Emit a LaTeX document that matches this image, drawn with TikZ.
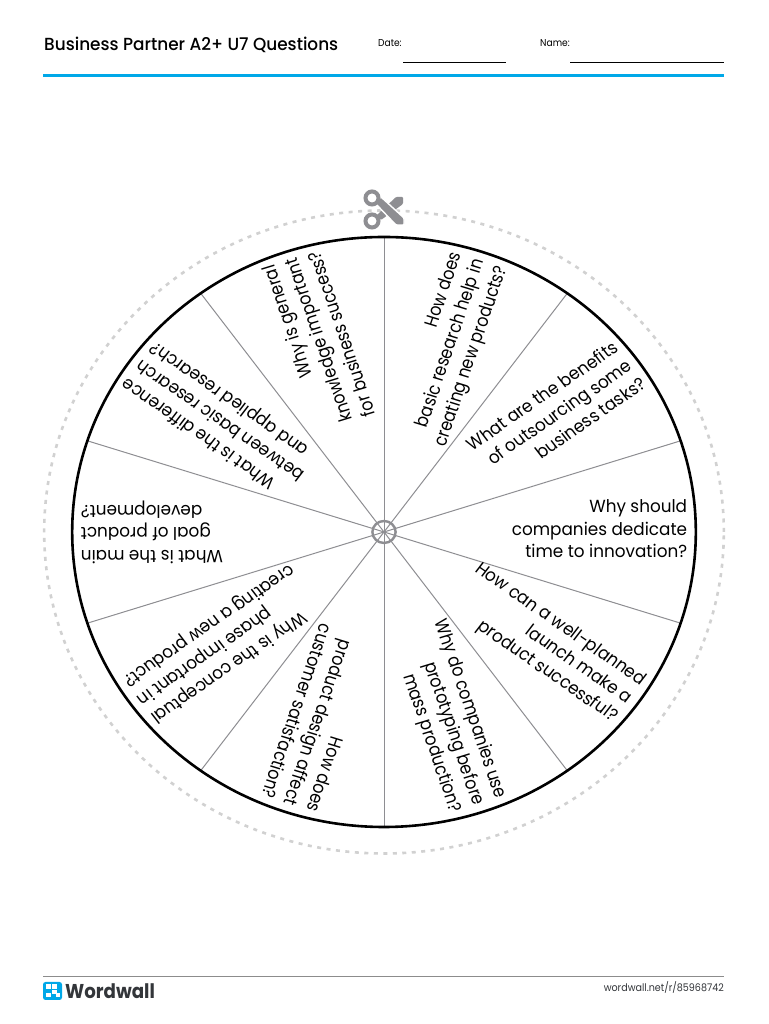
\documentclass[tikz,border=0pt]{standalone}
\usepackage{fontspec}
\setmainfont{Poppins}[FakeStretch=0.91]
\newfontfamily\titlefont{Poppins Medium}[FakeStretch=0.965]
\usetikzlibrary{positioning}
\definecolor{wordblue}{HTML}{00A8E8}
\definecolor{toolgray}{HTML}{8E8E92}
\definecolor{wordink}{HTML}{33363A}
\tikzset{
    x=1pt,y=1pt,
    question/.style={anchor=east,align=right,transform shape,inner sep=0pt,
        font=\fontsize{17.5}{22.5}\selectfont},
    spoke/.style={draw=toolgray,line width=1pt},
    formlabel/.style={anchor=west,inner sep=0pt,font=\fontsize{10}{11}\selectfont},
    formline/.style={draw=black,line width=0.9pt},
    grip/.style={draw=toolgray,line width=4pt}
}
\begin{document}
\begin{tikzpicture}
    \useasboundingbox[fill=white] (0,0) rectangle (768,1024);
    % header
    \node[anchor=west,inner sep=0pt,font=\titlefont\fontsize{17.5}{20}\selectfont] (title) at (44,979) {Business Partner A2+ U7 Questions};
    \node[formlabel] (date) at (378,981) {Date:};
    \node[formlabel] (name) at (540,981) {Name:};
    \draw[formline] (403,962) -- (506,962);
    \draw[formline] (570,962) -- (724,962);
    \draw[draw=wordblue,line width=3pt] (43,948) -- (724,948);
    % wheel, a little wider than tall
    \begin{scope}[shift={(384,492)},xscale=1.057]
        \coordinate (hub) at (0,0);
        \draw[draw=black!18,line width=2.6pt,dash pattern=on 4pt off 5.5pt] (hub) circle (321.5);
        \draw[spoke] (hub) -- (90:295);
        \draw[spoke] (hub) -- (54:295);
        \draw[spoke] (hub) -- (18:295);
        \draw[spoke] (hub) -- (-18:295);
        \draw[spoke] (hub) -- (-54:295);
        \draw[spoke] (hub) -- (-90:295);
        \draw[spoke] (hub) -- (-126:295);
        \draw[spoke] (hub) -- (-162:295);
        \draw[spoke] (hub) -- (162:295);
        \draw[spoke] (hub) -- (126:295);
        \draw[draw=black,line width=2.6pt] (hub) circle (295);
        \draw[draw=toolgray,line width=2.4pt] (hub) circle (11);
        \node[question,rotate=0] (q0) at (0.6:287) {Why should\\companies dedicate\\time to innovation?};
        \node[question,rotate=36] (q1) at (36:287) {What are the benefits\\of outsourcing some\\business tasks?};
        \node[question,rotate=72] (q2) at (71.5:287) {How does\\basic research help in\\creating new products?};
        \node[question,rotate=108] (q3) at (108:287) {Why is general\\knowledge important\\for business success?};
        \node[question,rotate=144] (q4) at (144:287) {What is the difference\\between basic research\\and applied research?};
        \node[question,rotate=180] (q5) at (180:287) {What is the main\\goal of product\\development?};
        \node[question,rotate=216] (q6) at (216:287) {Why is the conceptual\\phase important in\\creating a new product?};
        \node[question,rotate=252] (q7) at (252:287) {How does\\product design affect\\customer satisfaction?};
        \node[question,rotate=288] (q8) at (288:287) {Why do companies use\\prototyping before\\mass production?};
        \node[question,rotate=324] (q9) at (324:287) {How can a well-planned\\launch make a\\product successful?};
    \end{scope}
    % scissors
    \fill[toolgray,rounded corners=1pt] (376,808) -- (381,804) -- (403,820) -- (403,827) -- (396,827) -- cycle;
    \draw[grip] (372,803) circle (6.5);
    \draw[fill=toolgray,draw=white,line width=1.4pt,rounded corners=1pt] (375,821) -- (396,799) -- (404,799) -- (404,806) -- (381,827) -- cycle;
    \draw[grip] (372,826) circle (6.5);
    % footer
    \draw[draw=black!45,line width=1pt] (43,47) -- (724,47);
    \fill[wordblue,rounded corners=2.5pt] (43,24) rectangle (62,42);
    \fill[white] (46,35) rectangle (50.5,39.5);
    \fill[white] (52,35) rectangle (56.5,39.5);
    \fill[white] (52,29.5) rectangle (56.5,34);
    \fill[white] (46,26.5) rectangle (50.5,31);
    \fill[white] (55.5,26.5) rectangle (60,31);
    \node[anchor=west,inner sep=0pt,text=wordink,font=\bfseries\fontsize{20}{22}\selectfont] (brand) at (65,33) {Wordwall};
    \node[anchor=east,inner sep=0pt,text=wordink,font=\fontsize{10.5}{12}\selectfont] (link) at (724,37) {wordwall.net/r/85968742};
\end{tikzpicture}
\end{document}
